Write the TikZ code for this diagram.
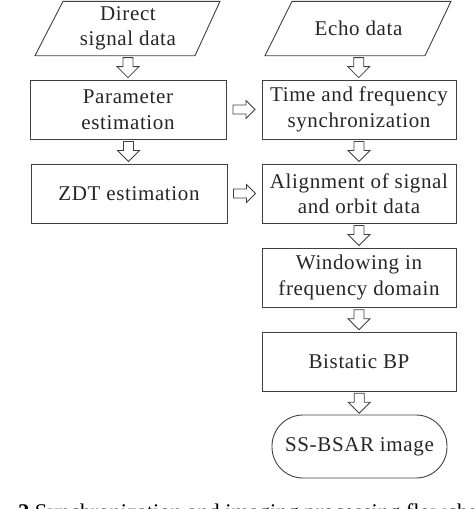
\documentclass[tikz,border=0pt]{standalone}
\usepackage{fontspec}
\setmainfont{Liberation Serif}
\newfontfamily\boxfont[LetterSpace=3]{Liberation Serif}
\usetikzlibrary{calc}
\newcommand{\varrow}[2]{\draw[blk] ($(#1.south)!0.5!(#2.north)$) ++(-5,10) -- ++(0,-9) -- ++(-6,0) -- ++(11,-11) -- ++(11,11) -- ++(-6,0) -- ++(0,9) -- cycle;}
\newcommand{\harrow}[2]{\draw[blk] ($(#1.east)!0.5!(#2.west)$) ++(-11,4.5) -- ++(13,0) -- ++(0,4.5) -- ++(9,-9) -- ++(-9,-9) -- ++(0,4.5) -- ++(-13,0) -- cycle;}
\begin{document}
\begin{tikzpicture}[x=1pt,y=1pt,
  every node/.style={font=\boxfont\fontsize{21}{25.5}\selectfont, text=black!85, align=center, inner sep=0pt},
  ln/.style={draw=black!75, line width=0.9pt},
  boxL/.style={ln, rectangle, minimum width=196, minimum height=59},
  boxR/.style={ln, rectangle, minimum width=194, minimum height=59},
  term/.style={ln, rectangle, rounded corners=31, minimum width=175, minimum height=63},
  iotext/.style={minimum width=150, minimum height=54},
  blk/.style={draw=black!75, line width=0.8pt, fill=white, line join=miter}]
\useasboundingbox (0,0) rectangle (474,-509);
\clip (0,0) rectangle (474,-509);
% input parallelograms
\node[iotext] (d1) at (128,-28.5) {Direct\\signal data};
\draw[ln] ([xshift=-93]d1.south) -- ([xshift=67]d1.south) -- ([xshift=92]d1.north) -- ([xshift=-65]d1.north) -- cycle;
\node[iotext] (e1) at (358.5,-28.5) {Echo data};
\draw[ln] ([xshift=-93.5]e1.south) -- ([xshift=66.5]e1.south) -- ([xshift=92.5]e1.north) -- ([xshift=-66.5]e1.north) -- cycle;
% left column
\node[boxL] (pe) at (128,-109.5) {Parameter\\estimation};
\node[boxL] (zdt) at (129,-193.5) {ZDT estimation};
% right column
\node[boxR] (tf) at (359,-109.5) {Time and frequency\\synchronization};
\node[boxR] (al) at (359,-193.5) {Alignment of signal\\and orbit data};
\node[boxR] (wf) at (359,-277.5) {Windowing in\\frequency domain};
\node[boxR] (bp) at (359,-362) {Bistatic BP};
\node[term] (img) at (359.5,-446.5) {SS-BSAR image};
% arrows
\varrow{d1}{pe}
\varrow{pe}{zdt}
\varrow{e1}{tf}
\varrow{tf}{al}
\varrow{al}{wf}
\varrow{wf}{bp}
\varrow{bp}{img}
\harrow{pe}{tf}
\harrow{zdt}{al}
% caption (cut off at the lower edge)
\node[anchor=base west, font=\fontsize{22.4}{27}\selectfont, text=black] (cap) at (18,-519.5) {\textbf{2} Synchronization and imaging processing flowchart};
\end{tikzpicture}
\end{document}
